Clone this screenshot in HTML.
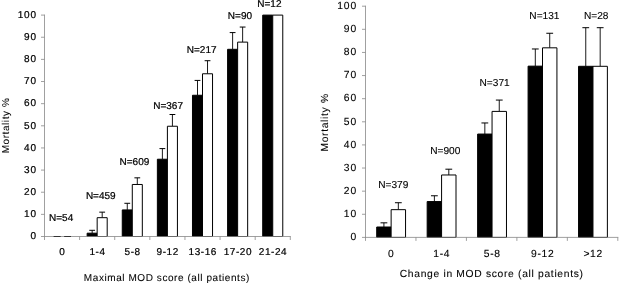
<!DOCTYPE html>
<html><head><meta charset="utf-8"><title>Mortality vs MOD score</title>
<style>html,body{margin:0;padding:0;background:#fff}svg{display:block}</style></head>
<body><svg width="619" height="284" viewBox="0 0 619 284" font-family="Liberation Sans, sans-serif" fill="#000" text-rendering="geometricPrecision" stroke-linejoin="round">
<rect x="0" y="0" width="619" height="284" fill="#fff"/>
<g id="L">
<line x1="92.16" y1="233.18" x2="92.16" y2="230.30" stroke="#000" stroke-width="0.9"/>
<line x1="89.26" y1="230.30" x2="95.06" y2="230.30" stroke="#000" stroke-width="1"/>
<line x1="102.19" y1="217.68" x2="102.19" y2="212.15" stroke="#000" stroke-width="0.9"/>
<line x1="99.29" y1="212.15" x2="105.09" y2="212.15" stroke="#000" stroke-width="1"/>
<rect x="87.14" y="233.18" width="10.03" height="3.32" fill="#000" stroke="#000" stroke-width="1"/>
<rect x="97.17" y="217.68" width="10.03" height="18.82" fill="#fff" stroke="#000" stroke-width="1"/>
<line x1="127.27" y1="209.93" x2="127.27" y2="203.29" stroke="#000" stroke-width="0.9"/>
<line x1="124.37" y1="203.29" x2="130.17" y2="203.29" stroke="#000" stroke-width="1"/>
<line x1="137.30" y1="184.47" x2="137.30" y2="177.83" stroke="#000" stroke-width="0.9"/>
<line x1="134.40" y1="177.83" x2="140.20" y2="177.83" stroke="#000" stroke-width="1"/>
<rect x="122.25" y="209.93" width="10.03" height="26.57" fill="#000" stroke="#000" stroke-width="1"/>
<rect x="132.29" y="184.47" width="10.03" height="52.03" fill="#fff" stroke="#000" stroke-width="1"/>
<line x1="162.38" y1="159.23" x2="162.38" y2="148.60" stroke="#000" stroke-width="0.9"/>
<line x1="159.48" y1="148.60" x2="165.28" y2="148.60" stroke="#000" stroke-width="1"/>
<line x1="172.42" y1="126.24" x2="172.42" y2="114.51" stroke="#000" stroke-width="0.9"/>
<line x1="169.52" y1="114.51" x2="175.32" y2="114.51" stroke="#000" stroke-width="1"/>
<rect x="157.37" y="159.23" width="10.03" height="77.27" fill="#000" stroke="#000" stroke-width="1"/>
<rect x="167.40" y="126.24" width="10.03" height="110.26" fill="#fff" stroke="#000" stroke-width="1"/>
<line x1="197.50" y1="95.25" x2="197.50" y2="80.41" stroke="#000" stroke-width="0.9"/>
<line x1="194.60" y1="80.41" x2="200.40" y2="80.41" stroke="#000" stroke-width="1"/>
<line x1="207.53" y1="73.77" x2="207.53" y2="60.71" stroke="#000" stroke-width="0.9"/>
<line x1="204.63" y1="60.71" x2="210.43" y2="60.71" stroke="#000" stroke-width="1"/>
<rect x="192.48" y="95.25" width="10.03" height="141.25" fill="#000" stroke="#000" stroke-width="1"/>
<rect x="202.51" y="73.77" width="10.03" height="162.73" fill="#fff" stroke="#000" stroke-width="1"/>
<line x1="232.61" y1="49.31" x2="232.61" y2="32.59" stroke="#000" stroke-width="0.9"/>
<line x1="229.71" y1="32.59" x2="235.51" y2="32.59" stroke="#000" stroke-width="1"/>
<line x1="242.64" y1="42.11" x2="242.64" y2="27.06" stroke="#000" stroke-width="0.9"/>
<line x1="239.74" y1="27.06" x2="245.54" y2="27.06" stroke="#000" stroke-width="1"/>
<rect x="227.60" y="49.31" width="10.03" height="187.19" fill="#000" stroke="#000" stroke-width="1"/>
<rect x="237.63" y="42.11" width="10.03" height="194.39" fill="#fff" stroke="#000" stroke-width="1"/>
<rect x="262.71" y="15.10" width="10.03" height="221.40" fill="#000" stroke="#000" stroke-width="1"/>
<rect x="272.74" y="15.10" width="10.03" height="221.40" fill="#fff" stroke="#000" stroke-width="1"/>
<line x1="44.50" y1="14.60" x2="44.50" y2="237.00" stroke="#888888" stroke-width="0.8"/>
<line x1="44.50" y1="236.50" x2="290.80" y2="236.50" stroke="#888888" stroke-width="0.8"/>
<line x1="53.62" y1="236.50" x2="60.66" y2="236.50" stroke="#333" stroke-width="1"/>
<line x1="64.16" y1="236.50" x2="70.99" y2="236.50" stroke="#333" stroke-width="1"/>
<line x1="41.00" y1="236.50" x2="44.50" y2="236.50" stroke="#888888" stroke-width="0.8"/>
<text id="Lt0" x="36.90" y="239.30" text-anchor="end" font-size="10" letter-spacing="0.85" stroke="#000" stroke-width="0.22">0</text>
<line x1="41.00" y1="214.36" x2="44.50" y2="214.36" stroke="#888888" stroke-width="0.8"/>
<text id="Lt1" x="36.90" y="217.16" text-anchor="end" font-size="10" letter-spacing="0.85" stroke="#000" stroke-width="0.22">10</text>
<line x1="41.00" y1="192.22" x2="44.50" y2="192.22" stroke="#888888" stroke-width="0.8"/>
<text id="Lt2" x="36.90" y="195.02" text-anchor="end" font-size="10" letter-spacing="0.85" stroke="#000" stroke-width="0.22">20</text>
<line x1="41.00" y1="170.08" x2="44.50" y2="170.08" stroke="#888888" stroke-width="0.8"/>
<text id="Lt3" x="36.90" y="172.88" text-anchor="end" font-size="10" letter-spacing="0.85" stroke="#000" stroke-width="0.22">30</text>
<line x1="41.00" y1="147.94" x2="44.50" y2="147.94" stroke="#888888" stroke-width="0.8"/>
<text id="Lt4" x="36.90" y="150.74" text-anchor="end" font-size="10" letter-spacing="0.85" stroke="#000" stroke-width="0.22">40</text>
<line x1="41.00" y1="125.80" x2="44.50" y2="125.80" stroke="#888888" stroke-width="0.8"/>
<text id="Lt5" x="36.90" y="128.60" text-anchor="end" font-size="10" letter-spacing="0.85" stroke="#000" stroke-width="0.22">50</text>
<line x1="41.00" y1="103.66" x2="44.50" y2="103.66" stroke="#888888" stroke-width="0.8"/>
<text id="Lt6" x="36.90" y="106.46" text-anchor="end" font-size="10" letter-spacing="0.85" stroke="#000" stroke-width="0.22">60</text>
<line x1="41.00" y1="81.52" x2="44.50" y2="81.52" stroke="#888888" stroke-width="0.8"/>
<text id="Lt7" x="36.90" y="84.32" text-anchor="end" font-size="10" letter-spacing="0.85" stroke="#000" stroke-width="0.22">70</text>
<line x1="41.00" y1="59.38" x2="44.50" y2="59.38" stroke="#888888" stroke-width="0.8"/>
<text id="Lt8" x="36.90" y="62.18" text-anchor="end" font-size="10" letter-spacing="0.85" stroke="#000" stroke-width="0.22">80</text>
<line x1="41.00" y1="37.24" x2="44.50" y2="37.24" stroke="#888888" stroke-width="0.8"/>
<text id="Lt9" x="36.90" y="40.04" text-anchor="end" font-size="10" letter-spacing="0.85" stroke="#000" stroke-width="0.22">90</text>
<line x1="41.00" y1="15.10" x2="44.50" y2="15.10" stroke="#888888" stroke-width="0.8"/>
<text id="Lt10" x="36.90" y="17.90" text-anchor="end" font-size="10" letter-spacing="0.85" stroke="#000" stroke-width="0.22">100</text>
<line x1="44.50" y1="236.50" x2="44.50" y2="240.00" stroke="#888888" stroke-width="0.8"/>
<line x1="79.61" y1="236.50" x2="79.61" y2="240.00" stroke="#888888" stroke-width="0.8"/>
<line x1="114.73" y1="236.50" x2="114.73" y2="240.00" stroke="#888888" stroke-width="0.8"/>
<line x1="149.84" y1="236.50" x2="149.84" y2="240.00" stroke="#888888" stroke-width="0.8"/>
<line x1="184.96" y1="236.50" x2="184.96" y2="240.00" stroke="#888888" stroke-width="0.8"/>
<line x1="220.07" y1="236.50" x2="220.07" y2="240.00" stroke="#888888" stroke-width="0.8"/>
<line x1="255.19" y1="236.50" x2="255.19" y2="240.00" stroke="#888888" stroke-width="0.8"/>
<line x1="290.30" y1="236.50" x2="290.30" y2="240.00" stroke="#888888" stroke-width="0.8"/>
<text id="Lc0" x="62.36" y="255.40" text-anchor="middle" font-size="10" letter-spacing="0.57" stroke="#000" stroke-width="0.22">0</text>
<text id="Lc1" x="97.47" y="255.40" text-anchor="middle" font-size="10" letter-spacing="0.57" stroke="#000" stroke-width="0.22">1-4</text>
<text id="Lc2" x="132.59" y="255.40" text-anchor="middle" font-size="10" letter-spacing="0.57" stroke="#000" stroke-width="0.22">5-8</text>
<text id="Lc3" x="167.70" y="255.40" text-anchor="middle" font-size="10" letter-spacing="0.57" stroke="#000" stroke-width="0.22">9-12</text>
<text id="Lc4" x="202.81" y="255.40" text-anchor="middle" font-size="10" letter-spacing="0.57" stroke="#000" stroke-width="0.22">13-16</text>
<text id="Lc5" x="237.93" y="255.40" text-anchor="middle" font-size="10" letter-spacing="0.57" stroke="#000" stroke-width="0.22">17-20</text>
<text id="Lc6" x="273.04" y="255.40" text-anchor="middle" font-size="10" letter-spacing="0.57" stroke="#000" stroke-width="0.22">21-24</text>
<text id="Ln0" x="61.15" y="221.30" text-anchor="middle" font-size="10" letter-spacing="0" stroke="#000" stroke-width="0.22">N=54</text>
<text id="Ln1" x="100.75" y="199.10" text-anchor="middle" font-size="10" letter-spacing="0" stroke="#000" stroke-width="0.22">N=459</text>
<text id="Ln2" x="134.40" y="165.10" text-anchor="middle" font-size="10" letter-spacing="0" stroke="#000" stroke-width="0.22">N=609</text>
<text id="Ln3" x="168.10" y="108.90" text-anchor="middle" font-size="10" letter-spacing="0" stroke="#000" stroke-width="0.22">N=367</text>
<text id="Ln4" x="201.70" y="52.60" text-anchor="middle" font-size="10" letter-spacing="0" stroke="#000" stroke-width="0.22">N=217</text>
<text id="Ln5" x="239.95" y="18.60" text-anchor="middle" font-size="10" letter-spacing="0" stroke="#000" stroke-width="0.22">N=90</text>
<text id="Ln6" x="269.40" y="7.40" text-anchor="middle" font-size="10" letter-spacing="0" stroke="#000" stroke-width="0.22">N=12</text>
<text id="Lxl" x="166.90" y="281.20" text-anchor="middle" font-size="10" letter-spacing="0.57" stroke="#000" stroke-width="0.08">Maximal MOD score (all patients)</text>
<text id="Lyl" transform="translate(9.30,125.50) rotate(-90)" text-anchor="middle" font-size="10" letter-spacing="0.57" stroke="#000" stroke-width="0.05">Mortality %</text>
</g>
<g id="R">
<line x1="383.92" y1="227.00" x2="383.92" y2="222.83" stroke="#000" stroke-width="0.9"/>
<line x1="380.52" y1="222.83" x2="387.32" y2="222.83" stroke="#000" stroke-width="1"/>
<line x1="398.34" y1="209.66" x2="398.34" y2="202.72" stroke="#000" stroke-width="0.9"/>
<line x1="394.94" y1="202.72" x2="401.74" y2="202.72" stroke="#000" stroke-width="1"/>
<rect x="376.71" y="227.00" width="14.42" height="10.40" fill="#000" stroke="#000" stroke-width="1"/>
<rect x="391.13" y="209.66" width="14.42" height="27.74" fill="#fff" stroke="#000" stroke-width="1"/>
<line x1="434.38" y1="201.56" x2="434.38" y2="195.78" stroke="#000" stroke-width="0.9"/>
<line x1="430.98" y1="195.78" x2="437.78" y2="195.78" stroke="#000" stroke-width="1"/>
<line x1="448.80" y1="174.98" x2="448.80" y2="169.20" stroke="#000" stroke-width="0.9"/>
<line x1="445.40" y1="169.20" x2="452.20" y2="169.20" stroke="#000" stroke-width="1"/>
<rect x="427.17" y="201.56" width="14.42" height="35.84" fill="#000" stroke="#000" stroke-width="1"/>
<rect x="441.59" y="174.98" width="14.42" height="62.42" fill="#fff" stroke="#000" stroke-width="1"/>
<line x1="484.84" y1="134.05" x2="484.84" y2="122.96" stroke="#000" stroke-width="0.9"/>
<line x1="481.44" y1="122.96" x2="488.24" y2="122.96" stroke="#000" stroke-width="1"/>
<line x1="499.26" y1="111.40" x2="499.26" y2="100.07" stroke="#000" stroke-width="0.9"/>
<line x1="495.86" y1="100.07" x2="502.66" y2="100.07" stroke="#000" stroke-width="1"/>
<rect x="477.63" y="134.05" width="14.42" height="103.35" fill="#000" stroke="#000" stroke-width="1"/>
<rect x="492.05" y="111.40" width="14.42" height="126.00" fill="#fff" stroke="#000" stroke-width="1"/>
<line x1="535.30" y1="66.15" x2="535.30" y2="48.97" stroke="#000" stroke-width="0.9"/>
<line x1="531.90" y1="48.97" x2="538.70" y2="48.97" stroke="#000" stroke-width="1"/>
<line x1="549.72" y1="47.82" x2="549.72" y2="33.25" stroke="#000" stroke-width="0.9"/>
<line x1="546.32" y1="33.25" x2="553.12" y2="33.25" stroke="#000" stroke-width="1"/>
<rect x="528.09" y="66.15" width="14.42" height="171.25" fill="#000" stroke="#000" stroke-width="1"/>
<rect x="542.51" y="47.82" width="14.42" height="189.58" fill="#fff" stroke="#000" stroke-width="1"/>
<line x1="585.76" y1="66.31" x2="585.76" y2="27.70" stroke="#000" stroke-width="0.9"/>
<line x1="582.36" y1="27.70" x2="589.16" y2="27.70" stroke="#000" stroke-width="1"/>
<line x1="600.18" y1="66.31" x2="600.18" y2="27.70" stroke="#000" stroke-width="0.9"/>
<line x1="596.78" y1="27.70" x2="603.58" y2="27.70" stroke="#000" stroke-width="1"/>
<rect x="578.55" y="66.31" width="14.42" height="171.09" fill="#000" stroke="#000" stroke-width="1"/>
<rect x="592.97" y="66.31" width="14.42" height="171.09" fill="#fff" stroke="#000" stroke-width="1"/>
<line x1="365.50" y1="5.70" x2="365.50" y2="237.90" stroke="#888888" stroke-width="0.8"/>
<line x1="365.50" y1="237.40" x2="618.30" y2="237.40" stroke="#888888" stroke-width="0.8"/>
<line x1="362.00" y1="237.40" x2="365.50" y2="237.40" stroke="#888888" stroke-width="0.8"/>
<text id="Rt0" x="357.00" y="240.20" text-anchor="end" font-size="10.3" letter-spacing="0.85" stroke="#000" stroke-width="0.12">0</text>
<line x1="362.00" y1="214.28" x2="365.50" y2="214.28" stroke="#888888" stroke-width="0.8"/>
<text id="Rt1" x="357.00" y="217.08" text-anchor="end" font-size="10.3" letter-spacing="0.85" stroke="#000" stroke-width="0.12">10</text>
<line x1="362.00" y1="191.16" x2="365.50" y2="191.16" stroke="#888888" stroke-width="0.8"/>
<text id="Rt2" x="357.00" y="193.96" text-anchor="end" font-size="10.3" letter-spacing="0.85" stroke="#000" stroke-width="0.12">20</text>
<line x1="362.00" y1="168.04" x2="365.50" y2="168.04" stroke="#888888" stroke-width="0.8"/>
<text id="Rt3" x="357.00" y="170.84" text-anchor="end" font-size="10.3" letter-spacing="0.85" stroke="#000" stroke-width="0.12">30</text>
<line x1="362.00" y1="144.92" x2="365.50" y2="144.92" stroke="#888888" stroke-width="0.8"/>
<text id="Rt4" x="357.00" y="147.72" text-anchor="end" font-size="10.3" letter-spacing="0.85" stroke="#000" stroke-width="0.12">40</text>
<line x1="362.00" y1="121.80" x2="365.50" y2="121.80" stroke="#888888" stroke-width="0.8"/>
<text id="Rt5" x="357.00" y="124.60" text-anchor="end" font-size="10.3" letter-spacing="0.85" stroke="#000" stroke-width="0.12">50</text>
<line x1="362.00" y1="98.68" x2="365.50" y2="98.68" stroke="#888888" stroke-width="0.8"/>
<text id="Rt6" x="357.00" y="101.48" text-anchor="end" font-size="10.3" letter-spacing="0.85" stroke="#000" stroke-width="0.12">60</text>
<line x1="362.00" y1="75.56" x2="365.50" y2="75.56" stroke="#888888" stroke-width="0.8"/>
<text id="Rt7" x="357.00" y="78.36" text-anchor="end" font-size="10.3" letter-spacing="0.85" stroke="#000" stroke-width="0.12">70</text>
<line x1="362.00" y1="52.44" x2="365.50" y2="52.44" stroke="#888888" stroke-width="0.8"/>
<text id="Rt8" x="357.00" y="55.24" text-anchor="end" font-size="10.3" letter-spacing="0.85" stroke="#000" stroke-width="0.12">80</text>
<line x1="362.00" y1="29.32" x2="365.50" y2="29.32" stroke="#888888" stroke-width="0.8"/>
<text id="Rt9" x="357.00" y="32.12" text-anchor="end" font-size="10.3" letter-spacing="0.85" stroke="#000" stroke-width="0.12">90</text>
<line x1="362.00" y1="6.20" x2="365.50" y2="6.20" stroke="#888888" stroke-width="0.8"/>
<text id="Rt10" x="357.00" y="9.00" text-anchor="end" font-size="10.3" letter-spacing="0.85" stroke="#000" stroke-width="0.12">100</text>
<line x1="365.50" y1="237.40" x2="365.50" y2="240.90" stroke="#888888" stroke-width="0.8"/>
<line x1="415.96" y1="237.40" x2="415.96" y2="240.90" stroke="#888888" stroke-width="0.8"/>
<line x1="466.42" y1="237.40" x2="466.42" y2="240.90" stroke="#888888" stroke-width="0.8"/>
<line x1="516.88" y1="237.40" x2="516.88" y2="240.90" stroke="#888888" stroke-width="0.8"/>
<line x1="567.34" y1="237.40" x2="567.34" y2="240.90" stroke="#888888" stroke-width="0.8"/>
<line x1="617.80" y1="237.40" x2="617.80" y2="240.90" stroke="#888888" stroke-width="0.8"/>
<text id="Rc0" x="391.33" y="256.50" text-anchor="middle" font-size="10.3" letter-spacing="0.68" stroke="#000" stroke-width="0.12">0</text>
<text id="Rc1" x="441.79" y="256.50" text-anchor="middle" font-size="10.3" letter-spacing="0.68" stroke="#000" stroke-width="0.12">1-4</text>
<text id="Rc2" x="492.25" y="256.50" text-anchor="middle" font-size="10.3" letter-spacing="0.68" stroke="#000" stroke-width="0.12">5-8</text>
<text id="Rc3" x="542.71" y="256.50" text-anchor="middle" font-size="10.3" letter-spacing="0.68" stroke="#000" stroke-width="0.12">9-12</text>
<text id="Rc4" x="593.17" y="256.50" text-anchor="middle" font-size="10.3" letter-spacing="0.68" stroke="#000" stroke-width="0.12">&gt;12</text>
<text id="Rn0" x="393.30" y="187.75" text-anchor="middle" font-size="10.15" letter-spacing="0" stroke="#000" stroke-width="0.12">N=379</text>
<text id="Rn1" x="445.30" y="154.10" text-anchor="middle" font-size="10.15" letter-spacing="0" stroke="#000" stroke-width="0.12">N=900</text>
<text id="Rn2" x="494.60" y="86.20" text-anchor="middle" font-size="10.15" letter-spacing="0" stroke="#000" stroke-width="0.12">N=371</text>
<text id="Rn3" x="544.40" y="19.20" text-anchor="middle" font-size="10.15" letter-spacing="0" stroke="#000" stroke-width="0.12">N=131</text>
<text id="Rn4" x="596.20" y="19.20" text-anchor="middle" font-size="10.15" letter-spacing="0" stroke="#000" stroke-width="0.12">N=28</text>
<text id="Rxl" x="491.70" y="276.80" text-anchor="middle" font-size="10.3" letter-spacing="0.68" stroke="#000" stroke-width="0.08">Change in MOD score (all patients)</text>
<text id="Ryl" transform="translate(327.70,122.40) rotate(-90)" text-anchor="middle" font-size="10.3" letter-spacing="0.68" stroke="#000" stroke-width="0.05">Mortality %</text>
</g>
</svg></body></html>
